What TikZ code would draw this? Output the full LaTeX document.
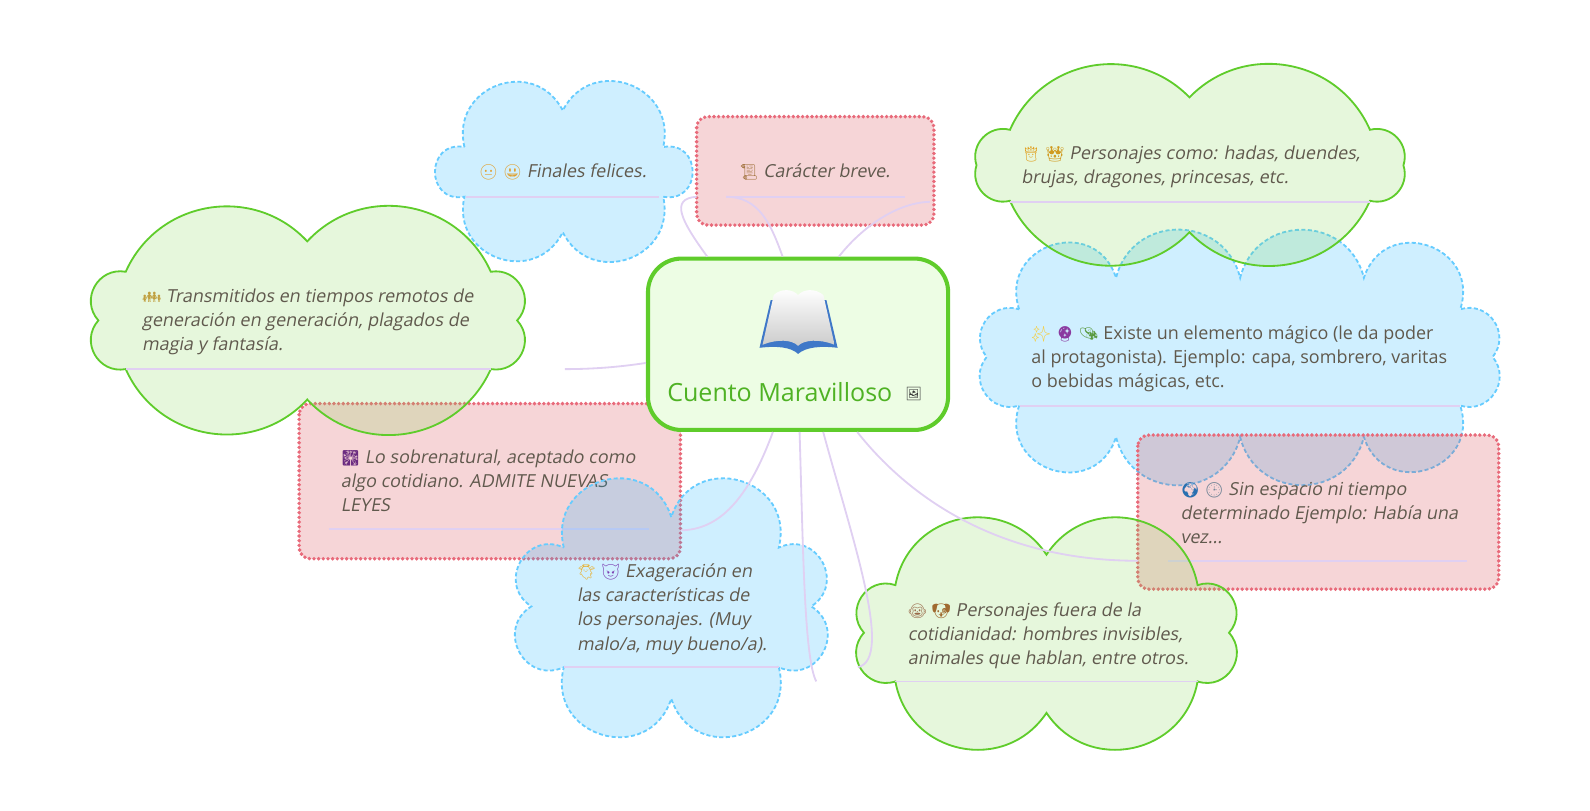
\documentclass[tikz,border=0pt]{standalone}
\usepackage{fontspec}
\setmainfont{Open Sans}
\newfontfamily\slantfont[FakeSlant=0.18]{Open Sans}
\newfontfamily\emojifont{Noto Emoji}
\usetikzlibrary{positioning}
\definecolor{textgray}{HTML}{60594D}
\definecolor{titlegreen}{HTML}{4FB224}
\definecolor{leafgreen}{HTML}{5FCC2B}
\definecolor{skyblue}{HTML}{66CCFF}
\definecolor{rosered}{HTML}{E86A7A}
\definecolor{linklilac}{HTML}{E0D0F2}
\definecolor{bookblue}{HTML}{3F78C8}
\newcommand{\emo}[2]{{\emojifont\fontsize{15}{15}\selectfont\textcolor[HTML]{#1}{#2}}}

\begin{document}
\begin{tikzpicture}[x=1pt,y=-1pt,
  lobe/.code={\pgfmathsetmacro\lobeloose{(2/3)*tan(#1/2)/sin(#1)/0.3915}\tikzset{bend left=#1,looseness=\lobeloose}},
  greencloud/.style={draw=leafgreen,line width=1.8pt,fill={rgb,255:red,130;green,215;blue,80},fill opacity=.2},
  bluecloud/.style={draw=skyblue,line width=1.8pt,dash pattern=on 4pt off 2.4pt,fill={rgb,255:red,15;green,175;blue,255},fill opacity=.2},
  redbox/.style={draw=rosered,line width=3.8pt,line cap=round,dash pattern=on 0pt off 4.6pt,rounded corners=11pt,fill={rgb,255:red,210;green,45;blue,55},fill opacity=.2},
  rootbox/.style={draw=leafgreen,line width=4pt,fill={rgb,255:red,237;green,253;blue,228},rounded corners=33pt,minimum width=296pt,minimum height=169pt},
  note/.style={anchor=base west,inner sep=0pt,align=left,text=textgray,font=\fontsize{17.7}{23.7}\selectfont\slantfont},
  plainnote/.style={note,font=\fontsize{17.7}{23.7}\selectfont},
  link/.style={draw=linklilac,line width=1.8pt},
  rule/.style={draw=linklilac,line width=1.8pt}]
  \useasboundingbox (0,0) rectangle (1568,798.8);

  % blue cloud with the magic element, red box over it
  \path[bluecloud] (1005,305) to[lobe=90] (1100.6,274) to[lobe=76] (1223,274) to[lobe=76] (1345,274) to[lobe=90] (1440,305)
    to[lobe=73] (1472,352) to[lobe=73] (1440,400) to[lobe=90] (1345,431) to[lobe=76] (1223,431) to[lobe=76] (1100.6,431)
    to[lobe=90] (1005,400) to[lobe=73] (973,352) to[lobe=73] (1005,305) -- cycle;
  \node[plainnote] (magico) at (1017,382) {\emo{F3CF4A}{✨} \emo{8A3AA0}{🔮} \emo{5A9A40}{👒} Existe un elemento mágico (le da poder\\al protagonista). Ejemplo: capa, sombrero, varitas\\o bebidas mágicas, etc.};
  \draw[rule] (1006,400) -- (1440,400);

  \path[redbox] (1122,429) rectangle (1478,581);
  \node[note] (espacio) at (1164,536) {\emo{2A70B0}{🌍} \emo{778899}{🕒} Sin espacio ni tiempo\\determinado Ejemplo: Había una\\vez...};
  \draw[rule] (1152,553) -- (1447,553);

  % green cloud, characters
  \path[greencloud] (996,128) to[lobe=56] (1173,96) to[lobe=56] (1351,128) to[lobe=61] (1384,163) to[lobe=61] (1351,198)
    to[lobe=56] (1173,229) to[lobe=56] (996,198) to[lobe=61] (963,163) to[lobe=61] (996,128) -- cycle;
  \node[note] (personajes) at (1007,181) {\emo{E0A020}{👸} \emo{D09A20}{👑} Personajes como: hadas, duendes,\\brujas, dragones, princesas, etc.};
  \draw[rule] (996,199) -- (1351,199);

  % top notes
  \path[bluecloud] (458,145) to[lobe=83] (555,109) to[lobe=83] (654,145) to[lobe=100] (654,194) to[lobe=83] (555,229) to[lobe=83] (458,194) to[lobe=100] (458,145) -- cycle;
  \node[note] (finales) at (472,175) {\emo{E0A030}{😐} \emo{E0A030}{😃} Finales felices.};
  \draw[rule] (460,194) -- (650,194);

  \path[redbox] (687,115) rectangle (921,222);
  \node[note] (breve) at (729,175) {\emo{A87A4A}{📜} Carácter breve.};
  \draw[rule] (716,194) -- (892,194);

  % left notes
  \path[redbox] (295,398) rectangle (671,551);
  \node[note] (sobrenatural) at (336,504) {\emo{6A2A80}{🎇} Lo sobrenatural, aceptado como\\algo cotidiano. ADMITE NUEVAS\\LEYES};
  \draw[rule] (324,522) -- (640,522);

  \path[greencloud] (124,268) to[lobe=56.5] (303,238) to[lobe=56.5] (484,268) to[lobe=71] (510,316) to[lobe=71] (484,364)
    to[lobe=56.5] (303,394) to[lobe=56.5] (124,364) to[lobe=71] (97,316) to[lobe=71] (124,268) -- cycle;
  \node[note] (remotos) at (140,346) {\emo{C0A040}{👪} Transmitidos en tiempos remotos de\\generación en generación, plagados de\\magia y fantasía.};
  \draw[rule] (124,364) -- (484,364);

  % bottom notes
  \path[bluecloud] (556,540) to[lobe=88] (662,510) to[lobe=88] (768,540) to[lobe=86] (800,598) to[lobe=86] (768,658)
    to[lobe=88] (662,689) to[lobe=88] (556,658) to[lobe=86] (524,598) to[lobe=86] (556,540) -- cycle;
  \node[note] (exageracion) at (569,641) {\emo{E8B030}{👼} \emo{7A3AB0}{😈} Exageración en\\las características de\\los personajes. (Muy\\malo/a, muy bueno/a).};
  \draw[rule] (556,658) -- (768,658);

  \path[greencloud] (883,577) to[lobe=68] (1032,547) to[lobe=68] (1181,577) to[lobe=75] (1212,624) to[lobe=75] (1181,672)
    to[lobe=68] (1032,703) to[lobe=68] (883,672) to[lobe=75] (852,624) to[lobe=75] (883,577) -- cycle;
  \node[note] (fuera) at (895,655) {\emo{9A6A4A}{🐵} \emo{A06A30}{🐶} Personajes fuera de la\\cotidianidad: hombres invisibles,\\animales que hablan, entre otros.};
  \draw[rule] (883,672) -- (1181,672);

  % root
  \node[rootbox] (cuento) at (787,339.5) {};
  \node[anchor=base,inner sep=0pt,text=titlegreen,font=\fontsize{24.7}{24.7}\selectfont] (titulo) at (769,396) {Cuento Maravilloso};
  \node[inner sep=0pt,font=\emojifont\fontsize{13}{13}\selectfont,text=black!80] (imagen) at (901,389) {🖼};
  \fill[bookblue] (760,296) -- (749,343) .. controls (765,341) and (780,342) .. (787,349) .. controls (795,342) and (810,341) .. (826,343) -- (815,296) -- cycle;
  \shade[top color=white,bottom color=black!20] (763,291) .. controls (770,284) and (782,285) .. (787,291) -- (787,341) .. controls (781,335) and (767,334) .. (752,340) -- cycle;
  \shade[top color=white,bottom color=black!20] (787,291) .. controls (792,285) and (804,284) .. (812,291) -- (823,340) .. controls (808,334) and (793,335) .. (787,341) -- cycle;

  % connectors
  \coordinate (finEnd) at (687,194);
  \coordinate (carEnd) at (716,194);
  \coordinate (perEnd) at (917,199);
  \coordinate (traEnd) at (557,364);
  \coordinate (sobEnd) at (672,523);
  \coordinate (exaEnd) at (805,672);
  \coordinate (fueEnd) at (846,658);
  \coordinate (sinEnd) at (1122,553);
  \draw[link] (cuento.136) .. controls (672,218) and (660,196) .. (finEnd);
  \draw[link] (cuento.100.6) .. controls (760,220) and (748,194) .. (carEnd);
  \draw[link] (cuento.65.5) .. controls (845,230) and (880,200) .. (perEnd);
  \draw[link] (cuento.187) .. controls (610,362) and (585,364) .. (traEnd);
  \draw[link] (cuento.254.3) .. controls (735,500) and (705,522) .. (sobEnd);
  \draw[link] (cuento.271.3) .. controls (792,540) and (793,650) .. (exaEnd);
  \draw[link] (cuento.286.3) .. controls (840,530) and (882,650) .. (fueEnd);
  \draw[link] (cuento.304.1) .. controls (900,495) and (990,553) .. (sinEnd);
\end{tikzpicture}
\end{document}
